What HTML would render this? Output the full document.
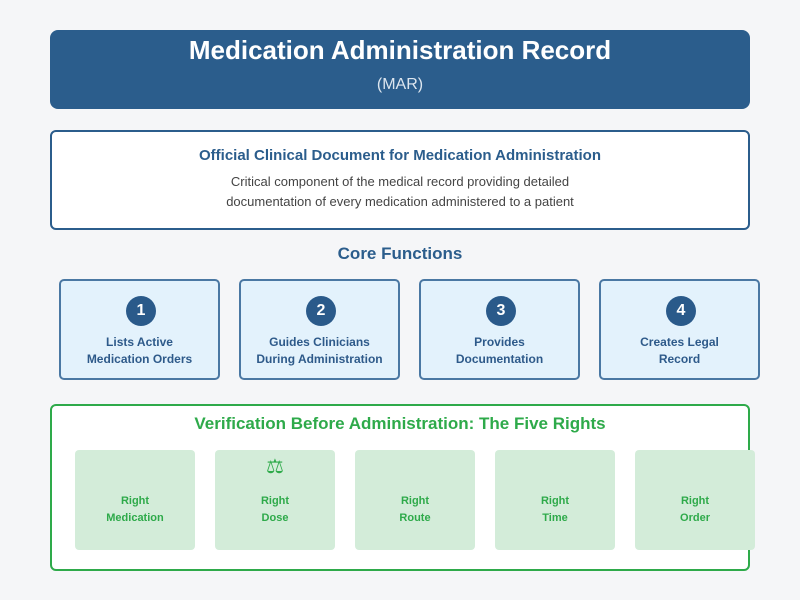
<!DOCTYPE html>
<html><head><style>
body{margin:0;width:800px;height:600px;background:#f5f6f8;font-family:"Liberation Sans",sans-serif;position:relative;overflow:hidden}
.a{position:absolute;box-sizing:border-box}
.c{text-align:center}
.fb{background:#e3f2fc;border:2px solid #4a78a3;border-radius:5px;width:161px;height:101px;top:279px}
.num{position:absolute;left:65px;top:15px;width:30px;height:30px;border-radius:50%;background:#2a5a8a;color:#fff;font-weight:bold;font-size:16px;line-height:30px;text-align:center}
.ft{position:absolute;left:0;right:0;top:53px;text-align:center;color:#2e5a8a;font-weight:bold;font-size:12px;line-height:17px}
.gb{background:#d3ecd9;border-radius:4px;width:120px;height:100px;top:450px}
.gt{position:absolute;left:0;right:0;top:43px;text-align:center;color:#2eaa4a;font-weight:bold;font-size:11px;line-height:17px}
</style></head><body>
<div class="a c" style="left:50px;top:30px;width:700px;height:79px;background:#2b5d8c;border-radius:8px;color:#fff">
<div style="position:absolute;top:2px;left:0;right:0;font-size:26px;font-weight:bold;line-height:36px">Medication Administration Record</div>
<div style="position:absolute;top:45px;left:0;right:0;font-size:16px;color:#dde6ef;line-height:20px">(MAR)</div>
</div>
<div class="a c" style="left:50px;top:130px;width:700px;height:100px;background:#fff;border:2px solid #2b5d8c;border-radius:6px">
<div style="position:absolute;top:14px;left:0;right:0;font-size:15px;font-weight:bold;color:#2b5d8c;line-height:20px">Official Clinical Document for Medication Administration</div>
<div style="position:absolute;top:40px;left:0;right:0;font-size:13px;color:#444;line-height:20px">Critical component of the medical record providing detailed<br>documentation of every medication administered to a patient</div>
</div>
<div class="a c" style="left:0;width:800px;top:243px;font-size:17px;font-weight:bold;color:#2b5d8c;line-height:22px">Core Functions</div>
<div class="a fb" style="left:59px"><div class="num">1</div><div class="ft">Lists Active<br>Medication Orders</div></div>
<div class="a fb" style="left:239px"><div class="num">2</div><div class="ft">Guides Clinicians<br>During Administration</div></div>
<div class="a fb" style="left:419px"><div class="num">3</div><div class="ft">Provides<br>Documentation</div></div>
<div class="a fb" style="left:599px"><div class="num">4</div><div class="ft">Creates Legal<br>Record</div></div>
<div class="a" style="left:50px;top:404px;width:700px;height:167px;background:#fff;border:2px solid #2eaa4a;border-radius:6px"></div>
<div class="a c" style="left:50px;width:700px;top:413px;font-size:17px;font-weight:bold;color:#2eaa4a;line-height:22px">Verification Before Administration: The Five Rights</div>
<div class="a gb" style="left:75px"><div class="gt">Right<br>Medication</div></div>
<div class="a gb" style="left:215px"><div style="position:absolute;left:0;right:0;top:5px;text-align:center;color:#2eaa4a;font-size:20px;line-height:24px">⚖</div><div class="gt">Right<br>Dose</div></div>
<div class="a gb" style="left:355px"><div class="gt">Right<br>Route</div></div>
<div class="a gb" style="left:495px"><div class="gt">Right<br>Time</div></div>
<div class="a gb" style="left:635px"><div class="gt">Right<br>Order</div></div>
</body></html>
